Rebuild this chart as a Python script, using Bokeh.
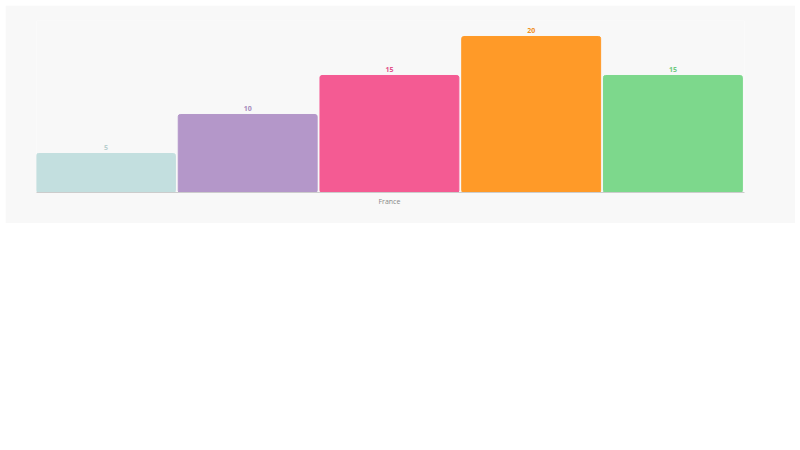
from bokeh.plotting import figure
from bokeh.models import ColumnDataSource, FixedTicker, Range1d
from bokeh.embed import file_html
from bokeh.resources import INLINE
from bokeh.core.properties import value

group = "France"
series = ["A", "B", "C", "D", "E"]
values = [5, 10, 15, 20, 15]
colors = ["#c3dfdf", "#b497c9", "#f45b93", "#ff9a28", "#7dd88c"]
label_colors = ["#b9cfcf", "#a68bbd", "#e2528a", "#f08f22", "#6fca80"]

xs = [i + 0.5 for i in range(len(series))]
src = ColumnDataSource(dict(x=xs, top=values, color=colors, lc=label_colors,
                            label=[str(v) for v in values]))

p = figure(width=790, height=218, output_backend="svg", toolbar_location=None,
           x_range=Range1d(0.01, 5.005), y_range=Range1d(0, 22.05))
p.margin = (5, 0, 0, 5)
p.min_border_left = 31
p.min_border_right = 51
p.min_border_top = 15
p.min_border_bottom = 31
p.background_fill_color = "#f8f8f8"
p.border_fill_color = "#f8f8f8"
p.outline_line_color = None
p.grid.visible = False
p.yaxis.visible = False

p.vbar(x="x", top="top", width=0.98, bottom=0, color="color", source=src,
       border_radius=2)
p.text(x="x", y="top", text="label", text_color="lc", source=src,
       text_align="center", text_baseline="bottom", y_offset=-3,
       text_font=value("Open Sans"), text_font_size="7px", text_font_style="bold")

p.xaxis.ticker = FixedTicker(ticks=[2.5])
p.xaxis.major_label_overrides = {2.5: group}
p.xaxis.major_tick_line_color = None
p.xaxis.major_tick_out = 0
p.xaxis.major_tick_in = 0
p.xaxis.minor_tick_line_color = None
p.xaxis.axis_line_color = "#cccccc"
p.xaxis.major_label_text_color = "#888888"
p.xaxis.major_label_text_font = "Open Sans"
p.xaxis.major_label_text_font_size = "7px"
p.xaxis.major_label_standoff = 4

open("out.html", "w").write(file_html(p, INLINE))
